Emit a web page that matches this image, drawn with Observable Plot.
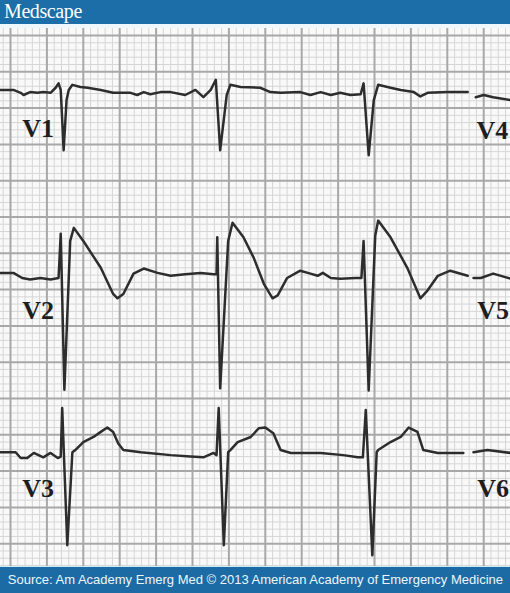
<!DOCTYPE html>
<html>
<head>
<meta charset="utf-8">
<script src="https://cdn.jsdelivr.net/npm/d3@7"></script>
<script src="https://cdn.jsdelivr.net/npm/@observablehq/plot@0.6"></script>
<style>
  html, body { margin: 0; padding: 0; background: #ffffff; }
  #page { width: 510px; height: 593px; overflow: hidden; }
  #header { height: 24px; background: #1b6ea7; border-bottom: 4px solid #eef7fa; position: relative; }
  #header span { position: absolute; left: 4px; top: 0px; font-family: "Liberation Serif", "DejaVu Serif", serif; font-size: 20px; color: #ffffff; letter-spacing: -0.4px; }
  #chart { height: 538px; }
  #chart svg { display: block; }
  #footer { height: 26px; border-top: 1px solid #cdeef7; background: #1c6ba4; color: #eef6fb;
            font-family: "Liberation Sans", Arial, sans-serif; font-size: 13px; line-height: 26px;
            text-align: right; padding-right: 7px; white-space: nowrap; }
</style>
</head>
<body>
<div id="page">
  <div id="header"><span>Medscape</span></div>
  <div id="chart"></div>
  <div id="footer">Source: Am Academy Emerg Med © 2013 American Academy of Emergency Medicine</div>
</div>
<script>
// Units: time in small boxes (mm, 0.04 s), amplitude in mm (0.1 mV)
const leadNames = ["V1", "V4", "V2", "V5", "V3", "V6"];
const leadBaselines = [62.2, 62.2, 37.2, 37.2, 12.6, 12.6];

const v1T = [-1.4, 0.4, 1.4, 1.8, 2.7, 3.7, 4.5, 5.5, 6.2, 6.6, 6.9, 7.3, 7.7, 8.0, 8.5, 9.6, 10.6, 12.4, 14.1, 16.5, 17.4, 18.3, 19.2, 20.6, 22.0, 24.0, 25.4, 26.5, 27.5, 28.2, 28.8, 29.7, 30.2, 31.6, 34.3, 35.7, 37.1, 39.8, 41.2, 42.6, 44.0, 45.3, 46.7, 48.1, 48.5, 49.2, 49.9, 50.5, 52.2, 53.6, 55.4, 56.3, 57.3, 60.0, 62.8];
const v1V = [0.3, 0.3, -0.1, -0.4, 0, -0.1, 0, -0.1, 0.6, 1.2, 0.3, -8.0, -1.1, 0.3, 1.0, 0.7, 0.6, 0.3, -0.1, -0.1, -0.4, 0, -0.3, 0, 0, -0.4, 0.3, -0.7, 0.3, 1.7, -8.0, -0.4, 1.0, 0.7, 0.6, 0, -0.1, 0, -0.4, 0, -0.4, -0.1, -0.4, -0.3, 1.2, -8.7, -1.1, 1.0, 0.6, 0.3, 0, -0.6, -0.1, 0, 0];

const v4T = [63.9, 65.0, 66.3, 68.7];
const v4V = [-0.7, -0.4, -0.7, -1.1];

const v2T = [-1.4, 0.4, 1.6, 2.7, 4.1, 5.5, 6.6, 6.9, 7.4, 8.2, 8.7, 10.0, 12.4, 14.1, 14.7, 15.5, 16.9, 18.3, 20.2, 22.0, 24.0, 26.1, 27.9, 28.3, 28.4, 28.8, 29.9, 30.5, 32.0, 33.4, 34.8, 36.0, 36.7, 38.0, 39.8, 41.2, 42.2, 42.9, 44.0, 45.3, 47.4, 48.2, 48.5, 49.2, 50.1, 50.5, 52.2, 54.5, 56.3, 57.3, 58.7, 60.4, 62.8];
const v2V = [0.1, 0.1, -0.6, -0.8, -0.6, -0.8, -0.6, 5.5, -16.0, 4.5, 6.3, 4.5, 0.8, -2.8, -3.4, -2.8, 0, 0.7, 0.1, -0.3, -0.1, 0.1, -0.1, -0.1, 5.0, -15.8, 4.5, 7.0, 5.0, 2.2, -1.4, -3.4, -3.0, -0.6, 0.4, 0, -0.3, 0.1, -0.6, -0.7, -0.6, -0.6, 4.5, -16.1, 5.2, 7.3, 5.0, 0.8, -3.4, -2.3, -0.3, 0.4, -0.3];

const v5T = [63.6, 64.6, 66.3, 68.7];
const v5V = [-0.6, -0.6, 0, -0.7];

const v3T = [-1.4, 0.7, 1.4, 2.3, 3.2, 4.5, 5.5, 6.5, 6.9, 7.1, 7.8, 8.5, 8.9, 10.0, 11.4, 12.4, 13.3, 14.1, 14.8, 15.5, 17.9, 22.0, 24.7, 26.5, 27.9, 28.3, 28.6, 29.3, 29.9, 30.2, 31.2, 33.0, 34.1, 35.0, 36.1, 37.1, 38.5, 42.6, 45.7, 47.7, 48.4, 48.8, 49.7, 50.3, 50.5, 52.2, 53.6, 54.7, 55.9, 56.7, 58.7, 62.2];
const v3V = [0, 0, -0.8, -0.8, -0.1, -0.7, -0.1, -0.8, -0.6, 6.1, -12.8, 0, 0.3, 1.4, 2.1, 2.8, 3.4, 2.8, 1.2, 0.3, 0, -0.4, -0.6, -0.7, -0.1, -0.4, 6.1, -12.8, 0, 0.3, 1.4, 2.1, 3.3, 3.4, 2.6, 0.3, -0.1, -0.1, -0.4, -0.7, -0.7, 5.8, -14.2, 0, 0.3, 1.4, 2.1, 3.4, 2.8, 0.3, -0.1, -0.1];

const v6T = [63.6, 65.5, 68.7];
const v6V = [0, 0.3, -0.1];

const labelT = [1.6, 64.0, 1.6, 64.1, 1.6, 64.1];
const labelY = [56.0, 55.8, 31.0, 31.0, 6.4, 6.5];

const seriesT = [v1T, v4T, v2T, v5T, v3T, v6T];
const seriesV = [v1V, v4V, v2V, v5V, v3V, v6V];

const points = leadNames.flatMap((lead, i) =>
  seriesT[i].map((t, j) => ({lead, t, y: leadBaselines[i] + seriesV[i][j]})));
const labels = leadNames.map((lead, i) => ({lead, t: labelT[i], y: labelY[i]}));

const xDomain = [-1.374, 68.68];
const yDomain = [-3.14, 70.96];
const minorX = d3.range(-1, 69).filter(d => d % 5 !== 0);
const majorX = d3.range(0, 69, 5);
const minorY = d3.range(-3, 71).filter(d => d % 5 !== 0);
const majorY = d3.range(0, 71, 5);

const chart = Plot.plot({
  width: 510,
  height: 538,
  margin: 0,
  style: {background: "#f9f9f9"},
  x: {domain: xDomain, axis: null},
  y: {domain: yDomain, axis: null},
  marks: [
    Plot.ruleX(minorX, {stroke: "#d6d6d6", strokeWidth: 1}),
    Plot.ruleY(minorY, {stroke: "#d6d6d6", strokeWidth: 1}),
    Plot.ruleX(majorX, {stroke: "#a8a8a8", strokeWidth: 2}),
    Plot.ruleY(majorY, {stroke: "#a8a8a8", strokeWidth: 2}),
    Plot.line(points, {x: "t", y: "y", z: "lead", stroke: "#2d2d2d", strokeWidth: 2.5,
      strokeLinejoin: "round", strokeLinecap: "round"}),
    Plot.text(labels, {x: "t", y: "y", text: "lead", textAnchor: "start", lineAnchor: "bottom",
      fontFamily: "Liberation Serif", fontWeight: "bold", fontSize: 26, fill: "#1e1e1e"})
  ]
});
document.getElementById("chart").appendChild(chart);
</script>
</body>
</html>
